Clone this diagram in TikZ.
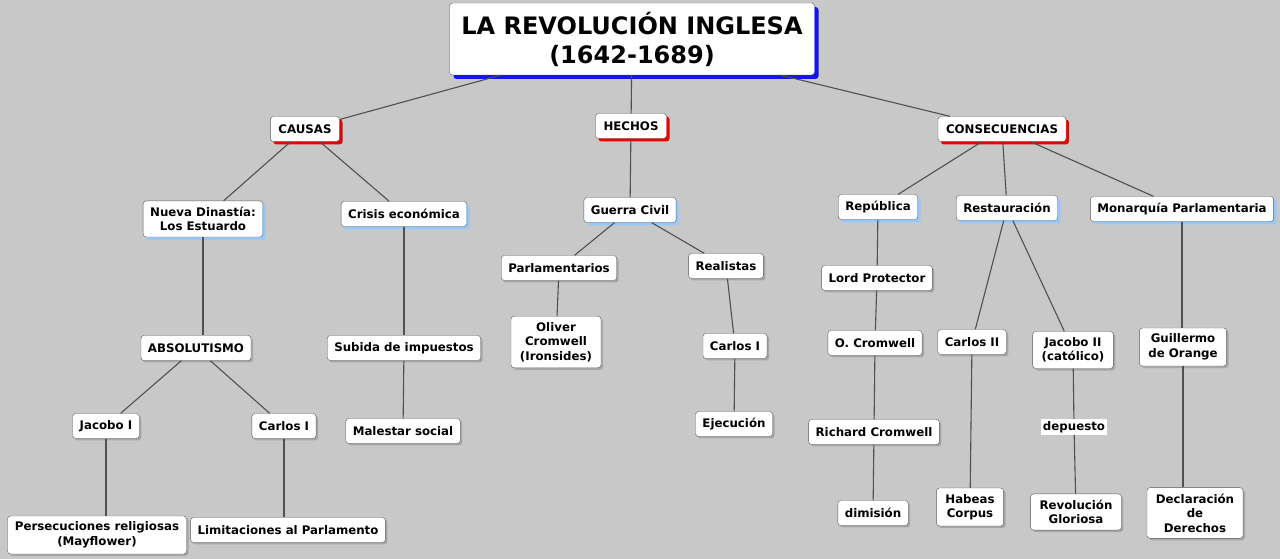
\documentclass[tikz,border=0pt]{standalone}
\usepackage{fontspec}
\setmainfont{DejaVu Sans}
\usetikzlibrary{shadows}
\definecolor{fondo}{RGB}{200,200,200}
\definecolor{enlace}{RGB}{80,80,80}
\definecolor{sombraazul}{RGB}{20,20,235}
\definecolor{sombraroja}{RGB}{235,0,0}
\definecolor{sombraceleste}{RGB}{150,200,250}
\begin{document}
\begin{tikzpicture}[line join=bevel,
  concepto/.style={draw=black!65,fill=white,rounded corners=3bp,align=center,
    font=\bfseries\fontsize{11.8bp}{14.5bp}\selectfont,inner xsep=7bp,inner ysep=6bp,minimum height=25bp},
  multilinea/.style={inner xsep=9bp},
  sombragris/.style={drop shadow={shadow xshift=2bp,shadow yshift=-2bp,fill=black!35,opacity=1}},
  sombraceleste/.style={drop shadow={shadow xshift=3bp,shadow yshift=-3bp,fill=sombraceleste,opacity=1}},
  sombraroja/.style={drop shadow={shadow xshift=3bp,shadow yshift=-3bp,fill=sombraroja,opacity=1},inner xsep=8bp},
  enlace/.style={draw=enlace,line width=1.1bp},
]
%%
\fill [fondo] (0bp,0bp) rectangle (1280bp,559bp);
\useasboundingbox (0bp,0bp) rectangle (1280bp,559bp);
%
\node (node_titulo) at (632bp,520bp) [concepto,minimum width=365bp,minimum height=72bp,
  font=\bfseries\fontsize{24bp}{29bp}\selectfont,
  drop shadow={shadow xshift=4bp,shadow yshift=-4bp,fill=sombraazul,opacity=1}] {LA REVOLUCIÓN INGLESA\\(1642-1689)};
  \node (node_causas) at (305bp,430bp) [concepto,sombraroja] {CAUSAS};
  \node (node_hechos) at (631bp,433bp) [concepto,sombraroja] {HECHOS};
  \node (node_consec) at (1002bp,430bp) [concepto,sombraroja] {CONSECUENCIAS};
%
\node (node_nueva) at (203bp,340bp) [concepto,sombraceleste] {Nueva Dinastía:\\Los Estuardo};
  \node (node_crisis) at (404bp,345bp) [concepto,sombraceleste] {Crisis económica};
  \node (node_guerra) at (630bp,349bp) [concepto,sombraceleste] {Guerra Civil};
  \node (node_republica) at (878bp,352bp) [concepto,sombraceleste] {República};
  \node (node_restaur) at (1007bp,351bp) [concepto,sombraceleste] {Restauración};
  \node (node_monarq) at (1182bp,350bp) [concepto,sombraceleste] {Monarquía Parlamentaria};
%
\node (node_absol) at (196bp,211bp) [concepto,sombragris] {ABSOLUTISMO};
  \node (node_jacobo1) at (106bp,133bp) [concepto,sombragris] {Jacobo I};
  \node (node_carlos1) at (284bp,133bp) [concepto,sombragris] {Carlos I};
  \node (node_persec) at (97bp,24bp) [concepto,sombragris,minimum width=179bp] {Persecuciones religiosas\\(Mayflower)};
  \node (node_limit) at (288bp,29bp) [concepto,sombragris] {Limitaciones al Parlamento};
  \node (node_subida) at (404bp,211bp) [concepto,sombragris] {Subida de impuestos};
  \node (node_malestar) at (403bp,128bp) [concepto,sombragris] {Malestar social};
%
\node (node_parlam) at (559bp,291bp) [concepto,sombragris] {Parlamentarios};
  \node (node_realistas) at (726bp,293bp) [concepto,sombragris] {Realistas};
  \node (node_oliver) at (556bp,217bp) [concepto,sombragris,multilinea] {Oliver\\Cromwell\\(Ironsides)};
  \node (node_carlosh) at (735bp,213bp) [concepto,sombragris] {Carlos I};
  \node (node_ejec) at (734bp,135bp) [concepto,sombragris] {Ejecución};
%
\node (node_lord) at (877bp,281bp) [concepto,sombragris] {Lord Protector};
  \node (node_ocrom) at (875bp,216bp) [concepto,sombragris] {O. Cromwell};
  \node (node_richard) at (874bp,127bp) [concepto,sombragris] {Richard Cromwell};
  \node (node_dimision) at (873bp,46bp) [concepto,sombragris] {dimisión};
  \node (node_carlos2) at (972bp,217bp) [concepto,sombragris] {Carlos II};
  \node (node_habeas) at (970bp,52bp) [concepto,sombragris,multilinea] {Habeas\\Corpus};
  \node (node_jacobo2) at (1073bp,209bp) [concepto,sombragris,multilinea] {Jacobo II\\(católico)};
  \node (node_depuesto) at (1074bp,132bp) [fill=white,inner sep=2bp,font=\bfseries\fontsize{11.8bp}{14.5bp}\selectfont] {depuesto};
  \node (node_gloriosa) at (1076bp,47bp) [concepto,sombragris,multilinea] {Revolución\\Gloriosa};
  \node (node_guillermo) at (1183bp,212bp) [concepto,sombragris,multilinea] {Guillermo\\de Orange};
  \node (node_declar) at (1195bp,46bp) [concepto,sombragris,multilinea] {Declaración\\de\\Derechos};
%
  \draw [enlace] (node_titulo) -- (node_causas);
  \draw [enlace] (node_titulo) -- (node_hechos);
  \draw [enlace] (node_titulo) -- (node_consec);
  \draw [enlace] (node_causas) -- (node_nueva);
  \draw [enlace] (node_causas) -- (node_crisis);
  \draw [enlace] (node_nueva) -- (node_nueva |- node_absol.north);
  \draw [enlace] (node_absol) -- (node_jacobo1);
  \draw [enlace] (node_absol) -- (node_carlos1);
  \draw [enlace] (node_jacobo1) -- (node_jacobo1 |- node_persec.north);
  \draw [enlace] (node_carlos1) -- (node_carlos1 |- node_limit.north);
  \draw [enlace] (node_crisis) -- (node_subida);
  \draw [enlace] (node_subida) -- (node_malestar);
  \draw [enlace] (node_hechos) -- (node_guerra);
  \draw [enlace] (node_guerra) -- (node_parlam);
  \draw [enlace] (node_guerra) -- (node_realistas);
  \draw [enlace] (node_parlam) -- (node_oliver);
  \draw [enlace] (node_realistas) -- (node_carlosh);
  \draw [enlace] (node_carlosh) -- (node_ejec);
  \draw [enlace] (node_consec) -- (node_republica);
  \draw [enlace] (node_consec) -- (node_restaur);
  \draw [enlace] (node_consec) -- (node_monarq);
  \draw [enlace] (node_republica) -- (node_lord);
  \draw [enlace] (node_lord) -- (node_ocrom);
  \draw [enlace] (node_ocrom) -- (node_richard);
  \draw [enlace] (node_richard) -- (node_dimision);
  \draw [enlace] (node_restaur) -- (node_carlos2);
  \draw [enlace] (node_restaur) -- (node_jacobo2);
  \draw [enlace] (node_carlos2) -- (node_habeas);
  \draw [enlace] (node_jacobo2) -- (node_depuesto);
  \draw [enlace] (node_depuesto) -- (node_gloriosa);
  \draw [enlace] (node_monarq) -- (node_monarq |- node_guillermo.north);
  \draw [enlace] (node_guillermo) -- (node_guillermo |- node_declar.north);
%
\end{tikzpicture}
\end{document}
